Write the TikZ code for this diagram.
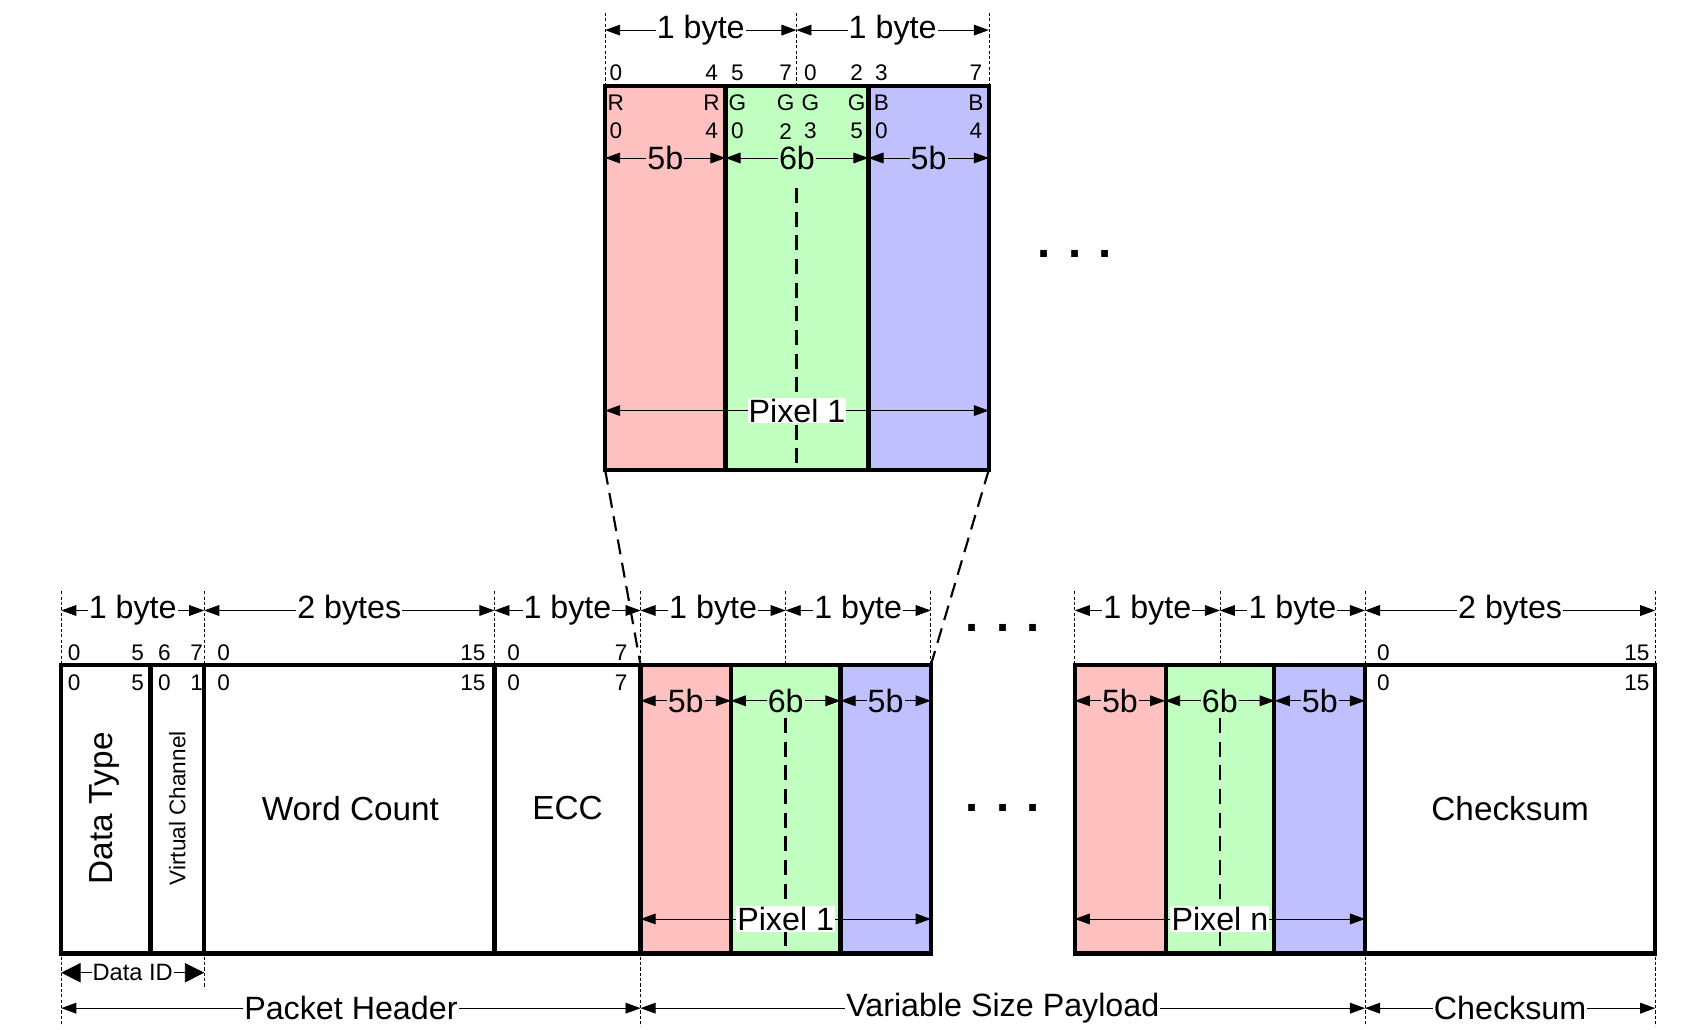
\documentclass[tikz,border=0pt]{standalone}
\usepackage{fontspec}
\setmainfont{Liberation Sans}
\usetikzlibrary{arrows.meta}
\definecolor{pR}{HTML}{FFC0C0}
\definecolor{pG}{HTML}{C0FFC0}
\definecolor{pB}{HTML}{C0C0FF}
\begin{document}
\begin{tikzpicture}[x=1pt,y=-1pt,
  box/.style={line width=4pt},
  guide/.style={densely dashed,line width=0.6pt},
  dim/.style={line width=0.8pt,{Triangle[length=14pt,width=10pt]}-{Triangle[length=14pt,width=10pt]}},
  bigdim/.style={line width=0.8pt,{Triangle[length=18pt,width=18pt]}-{Triangle[length=18pt,width=18pt]}},
  lbl/.style={fill=white,inner sep=1pt,font=\fontsize{30}{30}\selectfont},
  clbl/.style={inner sep=1pt,font=\fontsize{30}{30}\selectfont},
  bit/.style={inner sep=0pt,font=\fontsize{21}{21}\selectfont},
  big/.style={font=\fontsize{31}{31}\selectfont},
  dots/.style={font=\bfseries\fontsize{44}{44}\selectfont},
  cdash/.style={line width=2.5pt,dash pattern=on 14pt off 8pt}]
\useasboundingbox (0,0) rectangle (1564,958);
% ---------- top pixel ----------
\fill[pR] (563,80) rectangle (675,437);
\fill[pG] (675,80) rectangle (808,437);
\fill[pB] (808,80) rectangle (920,437);
\foreach \x in {563,741,920} \draw[guide] (\x,12) -- (\x,80);
\draw[cdash] (741,175) -- (741,437);
\draw[box] (563,80) rectangle (920,437);
\draw[box] (675,80) -- (675,437) (808,80) -- (808,437);
\draw[dim] (563,28) -- node[lbl]{1 byte} (741,28);
\draw[dim] (741,28) -- node[lbl]{1 byte} (920,28);
\foreach \x/\t in {573/0,662/4,686/5,731/7,754/0,797/2,820/3,908/7} \node[bit] at (\x,68) {\t};
\foreach \x/\t in {573/R,662/R,686/G,731/G,754/G,797/G,820/B,908/B} \node[bit] at (\x,96) {\t};
\foreach \x/\t in {573/0,662/4,686/0,731/2,754/3,797/5,820/0,908/4} \node[bit] at (\x,122) {\t};
\draw[dim] (563,147) -- node[clbl,fill=pR]{5b} (675,147);
\draw[dim] (675,147) -- node[clbl,fill=pG]{6b} (808,147);
\draw[dim] (808,147) -- node[clbl,fill=pB]{5b} (920,147);
\draw[dim] (563,382) -- node[lbl]{Pixel 1} (920,382);
\node[dots] at (1000,236) {. . .};
% zoom lines
\draw[line width=2pt,dash pattern=on 14pt off 8pt] (563,437) -- (596,619);
\draw[line width=2pt,dash pattern=on 14pt off 8pt] (920,437) -- (866,619);
% ---------- bottom ----------
\fill[pR] (596,619) rectangle (680,887);
\fill[pG] (680,619) rectangle (782,887);
\fill[pB] (782,619) rectangle (866,887);
\fill[pR] (1000,619) rectangle (1085,887);
\fill[pG] (1085,619) rectangle (1185,887);
\fill[pB] (1185,619) rectangle (1270,887);
\foreach \x in {57,596,1270,1540} \draw[guide] (\x,550) -- (\x,955);
\draw[guide] (190,550) -- (190,920);
\foreach \x in {460,731,866,1000,1135} \draw[guide] (\x,550) -- (\x,619);
\draw[cdash] (731,668) -- (731,887);
\draw[cdash] (1135,668) -- (1135,887);
\draw[box] (57,619) rectangle (866,887);
\foreach \x in {140,190,460,596,680,782} \draw[box] (\x,619) -- (\x,887);
\draw[box] (1000,619) rectangle (1540,887);
\foreach \x in {1085,1185,1270} \draw[box] (\x,619) -- (\x,887);
% byte dims
\foreach \a/\b/\t in {57/190/1 byte,190/460/2 bytes,460/596/1 byte,596/731/1 byte,731/866/1 byte,1000/1135/1 byte,1135/1270/1 byte,1270/1540/2 bytes}
  \draw[dim] (\a,568) -- node[lbl]{\t} (\b,568);
\foreach \x/\t in {69/0,128/5,153/6,183/7,208/0,440/15,478/0,578/7,1287/0,1523/15} \node[bit] at (\x,607) {\t};
\foreach \x/\t in {69/0,128/5,153/0,183/1,208/0,440/15,478/0,578/7,1287/0,1523/15} \node[bit] at (\x,635) {\t};
\foreach \o in {0,404}{
  \draw[dim] (596+\o,652) -- node[clbl,fill=pR]{5b} (680+\o,652);
  \draw[dim] (680+\o,652) -- node[clbl,fill=pG]{6b} (782+\o,652);
  \draw[dim] (782+\o,652) -- node[clbl,fill=pB]{5b} (866+\o,652);
}
\draw[dim] (596,855) -- node[lbl]{Pixel 1} (866,855);
\draw[dim] (1000,855) -- node[lbl]{Pixel n} (1270,855);
\node[big,rotate=90] at (97,752) {Data Type};
\node[rotate=90,font=\fontsize{21}{21}\selectfont] at (165,752) {Virtual Channel};
\node[big] at (326,752) {Word Count};
\node[big] at (528,752) {ECC};
\node[big] at (1405,752) {Checksum};
\node[dots] at (933,584) {. . .};
\node[dots] at (933,752) {. . .};
\draw[bigdim] (57,905) -- node[fill=white,inner sep=1pt,font=\fontsize{22}{22}\selectfont]{Data ID} (190,905);
\draw[dim] (57,938) -- node[lbl]{Packet Header} (596,938);
\draw[dim] (596,938) -- node[lbl]{Variable Size Payload} (1270,938);
\draw[dim] (1270,938) -- node[lbl]{Checksum} (1540,938);
\end{tikzpicture}
\end{document}
